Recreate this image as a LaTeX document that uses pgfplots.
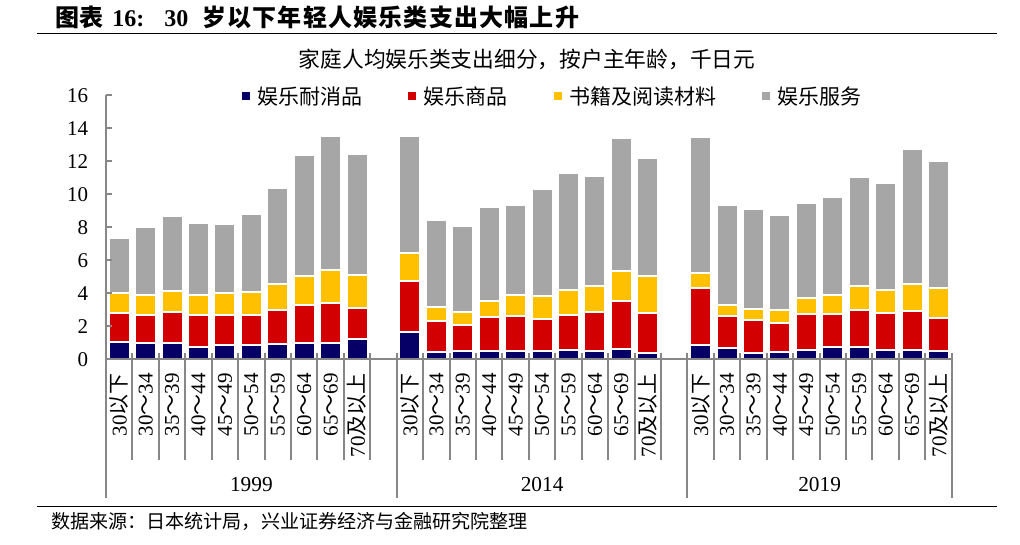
\documentclass[border=0pt]{standalone}
\usepackage{fontspec}
\usepackage{pgfplots}
\usepackage{pgfplotstable}
\pgfplotsset{compat=1.18}
\setmainfont{Liberation Serif}
\newfontfamily\cjk{Noto Sans CJK SC}
\newfontfamily\cjkwide[LetterSpace=5]{Noto Sans CJK SC}

\definecolor{durable}{RGB}{6,0,102}
\definecolor{goods}{RGB}{210,0,0}
\definecolor{books}{RGB}{255,192,0}
\definecolor{service}{RGB}{166,166,166}
\definecolor{axisgray}{RGB}{135,135,135}

\newcommand\tk{\fontsize{15.75pt}{18pt}\selectfont}
\newcommand\til{{\cjk ～}}
\newcommand\yx{{\cjk 以下}}
\newcommand\ys{{\cjk 及以上}}

% household entertainment spending per person, thousand yen
% x: slot position (0-9 = 1999, 11-20 = 2014, 22-31 = 2019)
\pgfplotstableread{
x  dur  goods books serv
0  1.07 1.74 1.23 3.31
1  1.01 1.68 1.23 4.10
2  1.01 1.86 1.29 4.52
3  0.73 1.96 1.23 4.34
4  0.85 1.84 1.35 4.16
5  0.89 1.80 1.41 4.71
6  0.93 2.08 1.57 5.80
7  0.97 2.34 1.76 7.31
8  0.97 2.46 2.00 8.10
9  1.21 1.92 2.00 7.31
11 1.67 3.09 1.70 7.07
12 0.42 1.92 0.85 5.25
13 0.48 1.62 0.78 5.20
14 0.52 2.06 0.97 5.68
15 0.48 2.16 1.28 5.43
16 0.48 1.98 1.39 6.47
17 0.58 2.12 1.52 7.07
18 0.52 2.36 1.58 6.65
19 0.64 2.91 1.82 8.04
20 0.36 2.46 2.25 7.13
22 0.85 3.49 0.91 8.22
23 0.67 1.97 0.67 6.04
24 0.40 2.00 0.67 6.04
25 0.42 1.80 0.79 5.73
26 0.55 2.21 0.97 5.74
27 0.73 2.03 1.16 5.92
28 0.76 2.25 1.45 6.59
29 0.55 2.27 1.40 6.46
30 0.55 2.40 1.63 8.16
31 0.48 2.04 1.82 7.68
}\spend

\begin{document}
\begin{tikzpicture}
\begin{scope}[x=0.75pt,y=-0.75pt]
  \path[use as bounding box] (0,0) rectangle (1020,544);
  % heading
  \node[anchor=base west, inner sep=0pt] at (55,26)
    {\fontsize{18pt}{20pt}\selectfont\bfseries\cjk 图表};
  \node[anchor=base west, inner sep=0pt] at (112,26)
    {\fontsize{18pt}{20pt}\selectfont\bfseries 16:};
  \node[anchor=base west, inner sep=0pt] at (164,26)
    {\fontsize{18pt}{20pt}\selectfont\bfseries 30};
  \node[anchor=base west, inner sep=0pt] at (202,26)
    {\fontsize{18pt}{20pt}\selectfont\bfseries\cjkwide 岁以下年轻人娱乐类支出大幅上升};
  \draw[line width=1pt] (37,33.3) -- (997,33.3);
  % subtitle
  \node[anchor=center, inner sep=0pt] at (527,59)
    {\fontsize{16.3pt}{18pt}\selectfont\cjk 家庭人均娱乐类支出细分，按户主年龄，千日元};
  % source
  \draw[line width=1pt] (37,506.7) -- (997,506.7);
  \node[anchor=base west, inner sep=0pt] at (51,528)
    {\fontsize{14.3pt}{16pt}\selectfont\cjk 数据来源：日本统计局，兴业证券经济与金融研究院整理};
\end{scope}

\begin{axis}[
  at={(79.5pt,-269.475pt)}, anchor=south west,
  scale only axis, width=634.3pt, height=198pt,
  xmin=-0.5, xmax=31.5, ymin=0, ymax=16,
  axis x line*=bottom, axis y line*=left,
  axis line style={draw=axisgray, line width=1.5pt},
  axis on top, clip=false,
  ybar stacked, bar width=0.795,
  ytick={0,2,...,16},
  tick align=inside, major tick length=4.5pt,
  y tick style={draw=axisgray, line width=1.5pt},
  x tick style={draw=none},
  /pgf/number format/assume math mode=true,
  yticklabel style={font=\tk, inner sep=0pt, xshift=-13.3pt},
  xtick={0,1,2,3,4,5,6,7,8,9,11,12,13,14,15,16,17,18,19,20,22,23,24,25,26,27,28,29,30,31},
  xticklabels={30\yx,30\til34,35\til39,40\til44,45\til49,50\til54,55\til59,60\til64,65\til69,70\ys,
               30\yx,30\til34,35\til39,40\til44,45\til49,50\til54,55\til59,60\til64,65\til69,70\ys,
               30\yx,30\til34,35\til39,40\til44,45\til49,50\til54,55\til59,60\til64,65\til69,70\ys},
  xticklabel style={font=\tk, inner sep=0pt, yshift=-10.3pt, rotate=90, anchor=east},
  legend image code/.code={\fill[#1, draw=none] (0pt,-3pt) rectangle (6pt,3pt);},
  legend style={at={(0.527,0.9955)}, anchor=center, draw=none, fill=none,
    inner sep=0pt, outer sep=0pt, legend columns=-1,
    font=\cjk\fontsize{15.75pt}{18pt}\selectfont,
    nodes={inner sep=0pt},
    /tikz/every odd column/.append style={column sep=5.5pt},
    /tikz/every even column/.append style={column sep=34.5pt}},
]
  \addplot[fill=durable, draw=white, line width=1.5pt] table[x=x, y=dur]   {\spend};
  \addplot[fill=goods,   draw=white, line width=1.5pt] table[x=x, y=goods] {\spend};
  \addplot[fill=books,   draw=white, line width=1.5pt] table[x=x, y=books] {\spend};
  \addplot[fill=service, draw=white, line width=1.5pt] table[x=x, y=serv]  {\spend};
  \legend{娱乐耐消品, 娱乐商品, 书籍及阅读材料, 娱乐服务}

  % category separators below the axis
  \pgfplotsinvokeforeach{0.5,1.5,2.5,3.5,4.5,5.5,6.5,7.5,8.5,9.5,
                         11.5,12.5,13.5,14.5,15.5,16.5,17.5,18.5,19.5,20.5,
                         22.5,23.5,24.5,25.5,26.5,27.5,28.5,29.5,30.5}{
    \draw[axisgray, line width=1.5pt] (axis cs:#1,0.38) -- (axis cs:#1,-6.1);
  }
  \pgfplotsinvokeforeach{-0.5,10.5,21.5,31.5}{
    \draw[axisgray, line width=1.5pt] (axis cs:#1,0.38) -- (axis cs:#1,-8.41);
  }
  % year groups
  \node[anchor=base, font=\fontsize{16pt}{18pt}\selectfont] at (axis cs:5,-8.02) {1999};
  \node[anchor=base, font=\fontsize{16pt}{18pt}\selectfont] at (axis cs:16,-8.02) {2014};
  \node[anchor=base, font=\fontsize{16pt}{18pt}\selectfont] at (axis cs:26.5,-8.02) {2019};
\end{axis}
\end{tikzpicture}
\end{document}
